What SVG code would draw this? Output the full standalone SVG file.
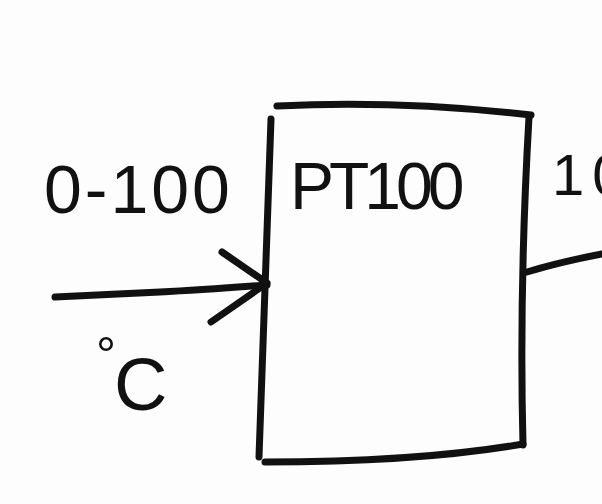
<svg xmlns="http://www.w3.org/2000/svg" width="602" height="504" viewBox="0 0 602 504">
<style>
.ink{fill:none;stroke:#111;stroke-width:7;stroke-linecap:round;stroke-linejoin:round}
.t{font-family:"Liberation Sans",Arial,sans-serif;fill:#111}
</style>
<rect width="602" height="504" fill="#fdfdfd"/>
<g id="pt100">
<path class="ink" d="M277,106 Q400,100 531,115"/>
<path class="ink" d="M271,119 L259,457"/>
<path class="ink" d="M529,117 Q519,290 523,445"/>
<path class="ink" d="M265,462 Q420,462 523,444"/>
<text class="t" x="290" y="209" font-size="66" letter-spacing="-5">PT100</text>
</g>
<g id="connectors">
<path class="ink" d="M55,297 Q120,294 160,292 Q200,290 267,285"/>
<path class="ink" d="M222,252 L267,283 L211,322"/>
<path class="ink" d="M527,272 Q560,262 602,254"/>
</g>
<g id="labels">
<text class="t" x="44" y="213" font-size="68" letter-spacing="3">0-100</text>
<text class="t"><tspan x="96" y="372" font-size="50">°</tspan><tspan x="114" y="410" font-size="74">C</tspan></text>
<text class="t" x="552" y="195" font-size="58" letter-spacing="8">10</text>
</g>
</svg>
